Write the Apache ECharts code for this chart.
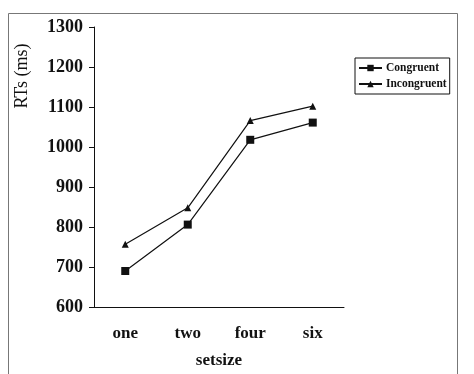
<!DOCTYPE html>
<html><head><meta charset="utf-8">
<script src="https://cdn.jsdelivr.net/npm/echarts@6/dist/echarts.min.js"></script>
<style>html,body{margin:0;padding:0;background:#fff}#c{width:474px;height:374px}</style>
</head><body><div id="c"></div>
<script>
const categories = ['one', 'two', 'four', 'six'];
const congruent = [690, 806, 1018, 1061];
const incongruent = [757, 848, 1066, 1102];
const yTicks = [600, 700, 800, 900, 1000, 1100, 1200, 1300];

const serif = '"Liberation Serif", "DejaVu Serif", serif';
const chart = echarts.init(document.getElementById('c'));
chart.setOption({
  animation: false,
  backgroundColor: '#fff',
  graphic: [
    { type: 'rect', shape: { x: 8.5, y: 13.5, width: 449, height: 380 }, style: { fill: 'none', stroke: '#777', lineWidth: 1 }, z: -1 },
    { type: 'text', x: 22, y: 76, rotation: Math.PI / 2,
      style: { text: 'RTs (ms)', font: '18px ' + serif, fill: '#111', align: 'center', verticalAlign: 'middle' } }
  ],
  grid: { left: 94, right: 130, top: 27, bottom: 66 },
  legend: {
    orient: 'vertical', left: 355, top: 58,
    padding: [4, 3, 4, 3], itemGap: 4,
    itemWidth: 23, itemHeight: 8,
    borderColor: '#111', borderWidth: 1,
    textStyle: { fontFamily: serif, fontWeight: 'bold', fontSize: 11.5, color: '#111', padding: [0, 0, 0, -1] },
    data: ['Congruent', 'Incongruent']
  },
  xAxis: {
    type: 'category', data: categories, boundaryGap: true,
    name: 'setsize', nameLocation: 'middle', nameGap: 45,
    nameTextStyle: { fontFamily: serif, fontWeight: 'bold', fontSize: 17, color: '#111' },
    axisLine: { lineStyle: { color: '#111', width: 1 } },
    axisTick: { show: false },
    axisLabel: { fontFamily: serif, fontWeight: 'bold', fontSize: 17, color: '#111', margin: 18 }
  },
  yAxis: {
    type: 'value', min: 600, max: 1300, interval: 100,
    axisLine: { show: true, lineStyle: { color: '#111', width: 1 } },
    axisTick: { show: true, length: 5, lineStyle: { color: '#111' } },
    splitLine: { show: false },
    axisLabel: { fontFamily: serif, fontWeight: 'bold', fontSize: 18, color: '#111', margin: 11,
      formatter: v => yTicks.includes(v) ? String(v) : '' }
  },
  series: [
    { name: 'Congruent', type: 'line', data: congruent, symbol: 'rect', symbolSize: 8,
      lineStyle: { color: '#111', width: 1.2 }, itemStyle: { color: '#111' } },
    { name: 'Incongruent', type: 'line', data: incongruent, symbol: 'triangle', symbolSize: 7,
      lineStyle: { color: '#111', width: 1.2 }, itemStyle: { color: '#111' } }
  ]
});
</script></body></html>
